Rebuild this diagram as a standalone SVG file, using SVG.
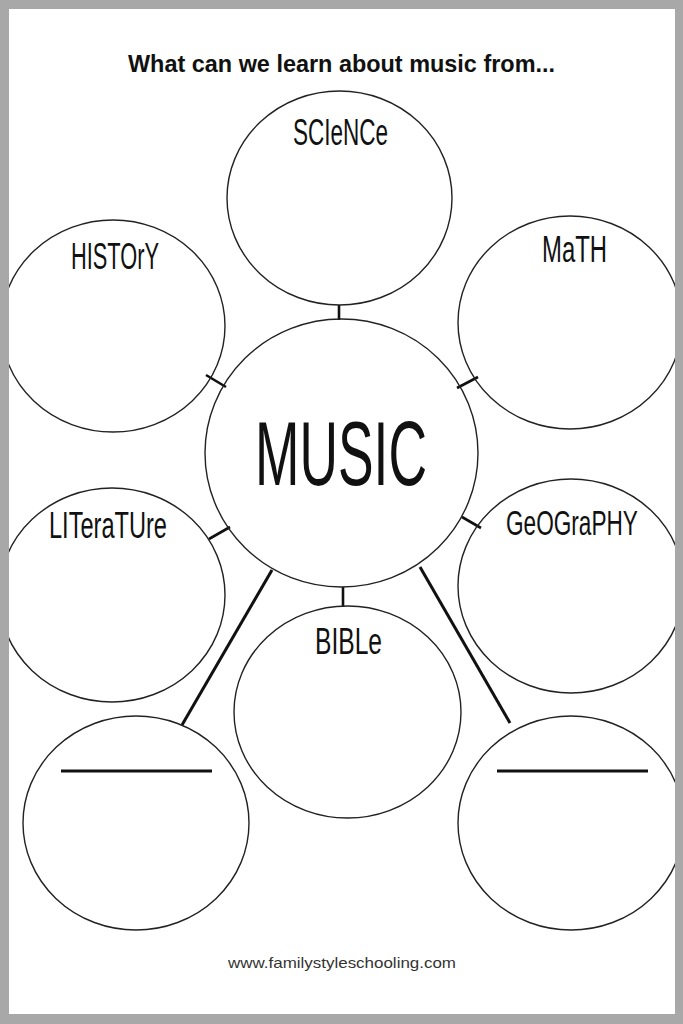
<svg xmlns="http://www.w3.org/2000/svg" width="683" height="1024" viewBox="0 0 683 1024">
<style>
.c{fill:none;stroke:#222;stroke-width:1.4}
.lbl{font-family:"Liberation Sans",Arial,sans-serif;font-size:36px;fill:#111}
.tick{stroke:#111;stroke-width:2.6;stroke-linecap:butt}
.long{stroke:#111;stroke-width:3}
</style>
<rect x="0" y="0" width="683" height="1024" fill="#fff"/>
<text x="128" y="72" textLength="427" lengthAdjust="spacingAndGlyphs" style="font-family:'Liberation Sans',Arial,sans-serif;font-weight:bold;font-size:24px;fill:#111">What can we learn about music from...</text>
<g id="connectors">
<line class="tick" x1="339" y1="305" x2="339" y2="320"/>
<line class="tick" x1="206" y1="375" x2="226" y2="387"/>
<line class="tick" x1="457" y1="388" x2="478" y2="377"/>
<line class="tick" x1="209" y1="539" x2="230" y2="527"/>
<line class="tick" x1="462" y1="517" x2="481" y2="528"/>
<line class="tick" x1="343" y1="587" x2="343" y2="607"/>
<line class="long" x1="272" y1="570" x2="182" y2="725"/>
<line class="long" x1="420" y1="567" x2="510" y2="723"/>
</g>
<g id="science"><ellipse class="c" cx="339.5" cy="198" rx="112.5" ry="107"/><text class="lbl" x="293" y="145" textLength="95" lengthAdjust="spacingAndGlyphs">SCIeNCe</text></g>
<g id="history"><ellipse class="c" cx="113" cy="326" rx="112" ry="106"/><text class="lbl" x="71" y="269" textLength="88" lengthAdjust="spacingAndGlyphs">HISTOrY</text></g>
<g id="math"><ellipse class="c" cx="570" cy="322.5" rx="112" ry="106.5"/><text class="lbl" x="542" y="262" textLength="65" lengthAdjust="spacingAndGlyphs">MaTH</text></g>
<g id="music"><ellipse class="c" cx="341.5" cy="453" rx="136.5" ry="134"/><text x="255" y="485" textLength="172" lengthAdjust="spacingAndGlyphs" style="font-family:'Liberation Sans',Arial,sans-serif;font-size:90px;fill:#111">MUSIC</text></g>
<g id="literature"><ellipse class="c" cx="112" cy="595" rx="113" ry="107"/><text class="lbl" x="49" y="538" textLength="118" lengthAdjust="spacingAndGlyphs">LITeraTUre</text></g>
<g id="geography"><ellipse class="c" cx="571" cy="586" rx="113" ry="107"/><text class="lbl" transform="translate(506,535) scale(0.65,1)" x="0" y="0" textLength="203" lengthAdjust="spacingAndGlyphs" style="font-size:35px">GeOGraPHY</text></g>
<g id="bible"><ellipse class="c" cx="347.5" cy="712" rx="113.5" ry="106"/><text class="lbl" x="315" y="654" textLength="67" lengthAdjust="spacingAndGlyphs">BIBLe</text></g>
<g id="blank-left"><ellipse class="c" cx="136" cy="823" rx="113" ry="107"/><line class="long" x1="61" y1="771" x2="212" y2="771"/></g>
<g id="blank-right"><ellipse class="c" cx="571" cy="823" rx="113" ry="107"/><line class="long" x1="497" y1="771" x2="648" y2="771"/></g>
<text x="228" y="968" textLength="228" lengthAdjust="spacingAndGlyphs" style="font-family:'Liberation Sans',Arial,sans-serif;font-size:15px;fill:#333">www.familystyleschooling.com</text>
<path d="M0 0H683V1024H0Z M9 9V1014H675V9Z" fill="#a8a8a8" fill-rule="evenodd"/>
</svg>
